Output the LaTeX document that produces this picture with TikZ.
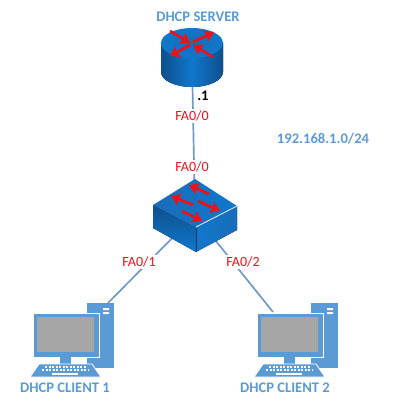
\documentclass[tikz,border=0pt]{standalone}
\usepackage{fontspec}
\setmainfont{Carlito}
\usetikzlibrary{arrows.meta}
\definecolor{BlueLabel}{HTML}{5B9BD5}
\definecolor{LineBlue}{HTML}{6F9BC4}
\definecolor{RedPort}{HTML}{E8141C}
\definecolor{BlueTop}{HTML}{0F78CC}
\definecolor{BlueDark}{HTML}{0F4F8C}
\definecolor{BlueSide}{HTML}{1A6CB8}
\definecolor{ScreenGrey}{HTML}{A6A6A6}
\tikzset{
  portlabel/.style={text=RedPort, fill=white, inner sep=1pt, font=\fontsize{10pt}{12pt}\selectfont},
  devlabel/.style={text=BlueLabel, inner sep=0pt, font=\fontsize{10.4pt}{12pt}\selectfont\bfseries},
  link/.style={LineBlue, line width=1.2pt},
  flow/.style={RedPort, line width=2pt, -{Stealth[length=6.5pt,width=8.5pt,inset=1pt]}},
  pcpart/.style={fill=BlueLabel, draw=none}
}
\begin{document}
\begin{tikzpicture}[x=0.025cm, y=-0.025cm]
    \useasboundingbox (0,0) rectangle (400,408);
    \coordinate (router) at (192,60);
    \coordinate (switch) at (195,215);
    \coordinate (client1) at (108,303);
    \coordinate (client2) at (273,312);
    % links first, devices go on top
    \draw[link] (router) -- (switch);
    \draw[link] (switch) -- (client1);
    \draw[link] (switch) -- (client2);
    % router
    \fill[left color=BlueDark, right color=BlueDark, middle color=BlueTop] (161,43) -- (161,72) arc[start angle=180, end angle=360, x radius=31, y radius=-15] -- (223,43) -- cycle;
    \shade[inner color=BlueSide, outer color=BlueTop] (192,43) ellipse[x radius=31, y radius=15];
    \draw[flow] (170,31) -- (190,43);
    \draw[flow] (193,42) -- (214,32);
    \draw[flow] (190,45) -- (170,56);
    \draw[flow] (213,57) -- (193,45);
    % switch
    \fill[top color=BlueDark, bottom color=BlueTop] (153,205) -- (196,227) -- (196,252) -- (153,228) -- cycle;
    \fill[left color=BlueTop, right color=BlueSide] (196,227) -- (237,206) -- (237,230) -- (196,252) -- cycle;
    \shade[left color=BlueSide, right color=BlueTop] (153,205) -- (195,179) -- (237,206) -- (196,227) -- cycle;
    \draw[white, line width=0.5pt] (196,227) -- (237,206);
    \draw[BlueDark!70!black, line width=0.5pt] (196,228) -- (196,252);
    \draw[flow] (209,194) -- (189,185);
    \draw[flow] (193,205) -- (171,196);
    \draw[flow] (198,201) -- (220,211);
    \draw[flow] (182,211) -- (202,221);
    % clients
    \foreach \cx in {0,224} {
      \begin{scope}[xshift=\cx*0.025cm]
        \fill[pcpart] (87,303) rectangle (114,368);
        \fill[white] (103,308) rectangle (109,310) (103,312) rectangle (109,314);
        \fill[pcpart, draw=white, line width=0.6pt] (33,313) rectangle (99,357);
        \fill[ScreenGrey] (37,317) rectangle (94,352);
        \fill[pcpart] (60,357) rectangle (71,364);
        \fill[pcpart, draw=white, line width=0.6pt] (39,364) -- (92,364) -- (101,377) -- (30,377) -- cycle;
        \draw[white, line width=1pt, dash pattern=on 1.5pt off 1pt] (45,367) -- (86,367);
        \draw[white, line width=1pt, dash pattern=on 1.5pt off 1pt] (42,370) -- (89,370);
        \draw[white, line width=1pt] (52,374) -- (78,374);
      \end{scope}
    }
    % labels
    \node[devlabel] (serverlabel) at (198,17) {DHCP SERVER};
    \node[devlabel] (client1label) at (65,388) {DHCP CLIENT 1};
    \node[devlabel] (client2label) at (285,388) {DHCP CLIENT 2};
    \node[devlabel] (subnet) at (323,139) {192.168.1.0/24};
    \node[text=black, inner sep=0pt, font=\fontsize{10.4pt}{12pt}\selectfont\bfseries] (hostid) at (203,96) {.1};
    \node[portlabel] (port0a) at (192,116) {FA0/0};
    \node[portlabel] (port0b) at (192,167) {FA0/0};
    \node[portlabel] (port1) at (139,262) {FA0/1};
    \node[portlabel] (port2) at (243,262) {FA0/2};
\end{tikzpicture}
\end{document}
